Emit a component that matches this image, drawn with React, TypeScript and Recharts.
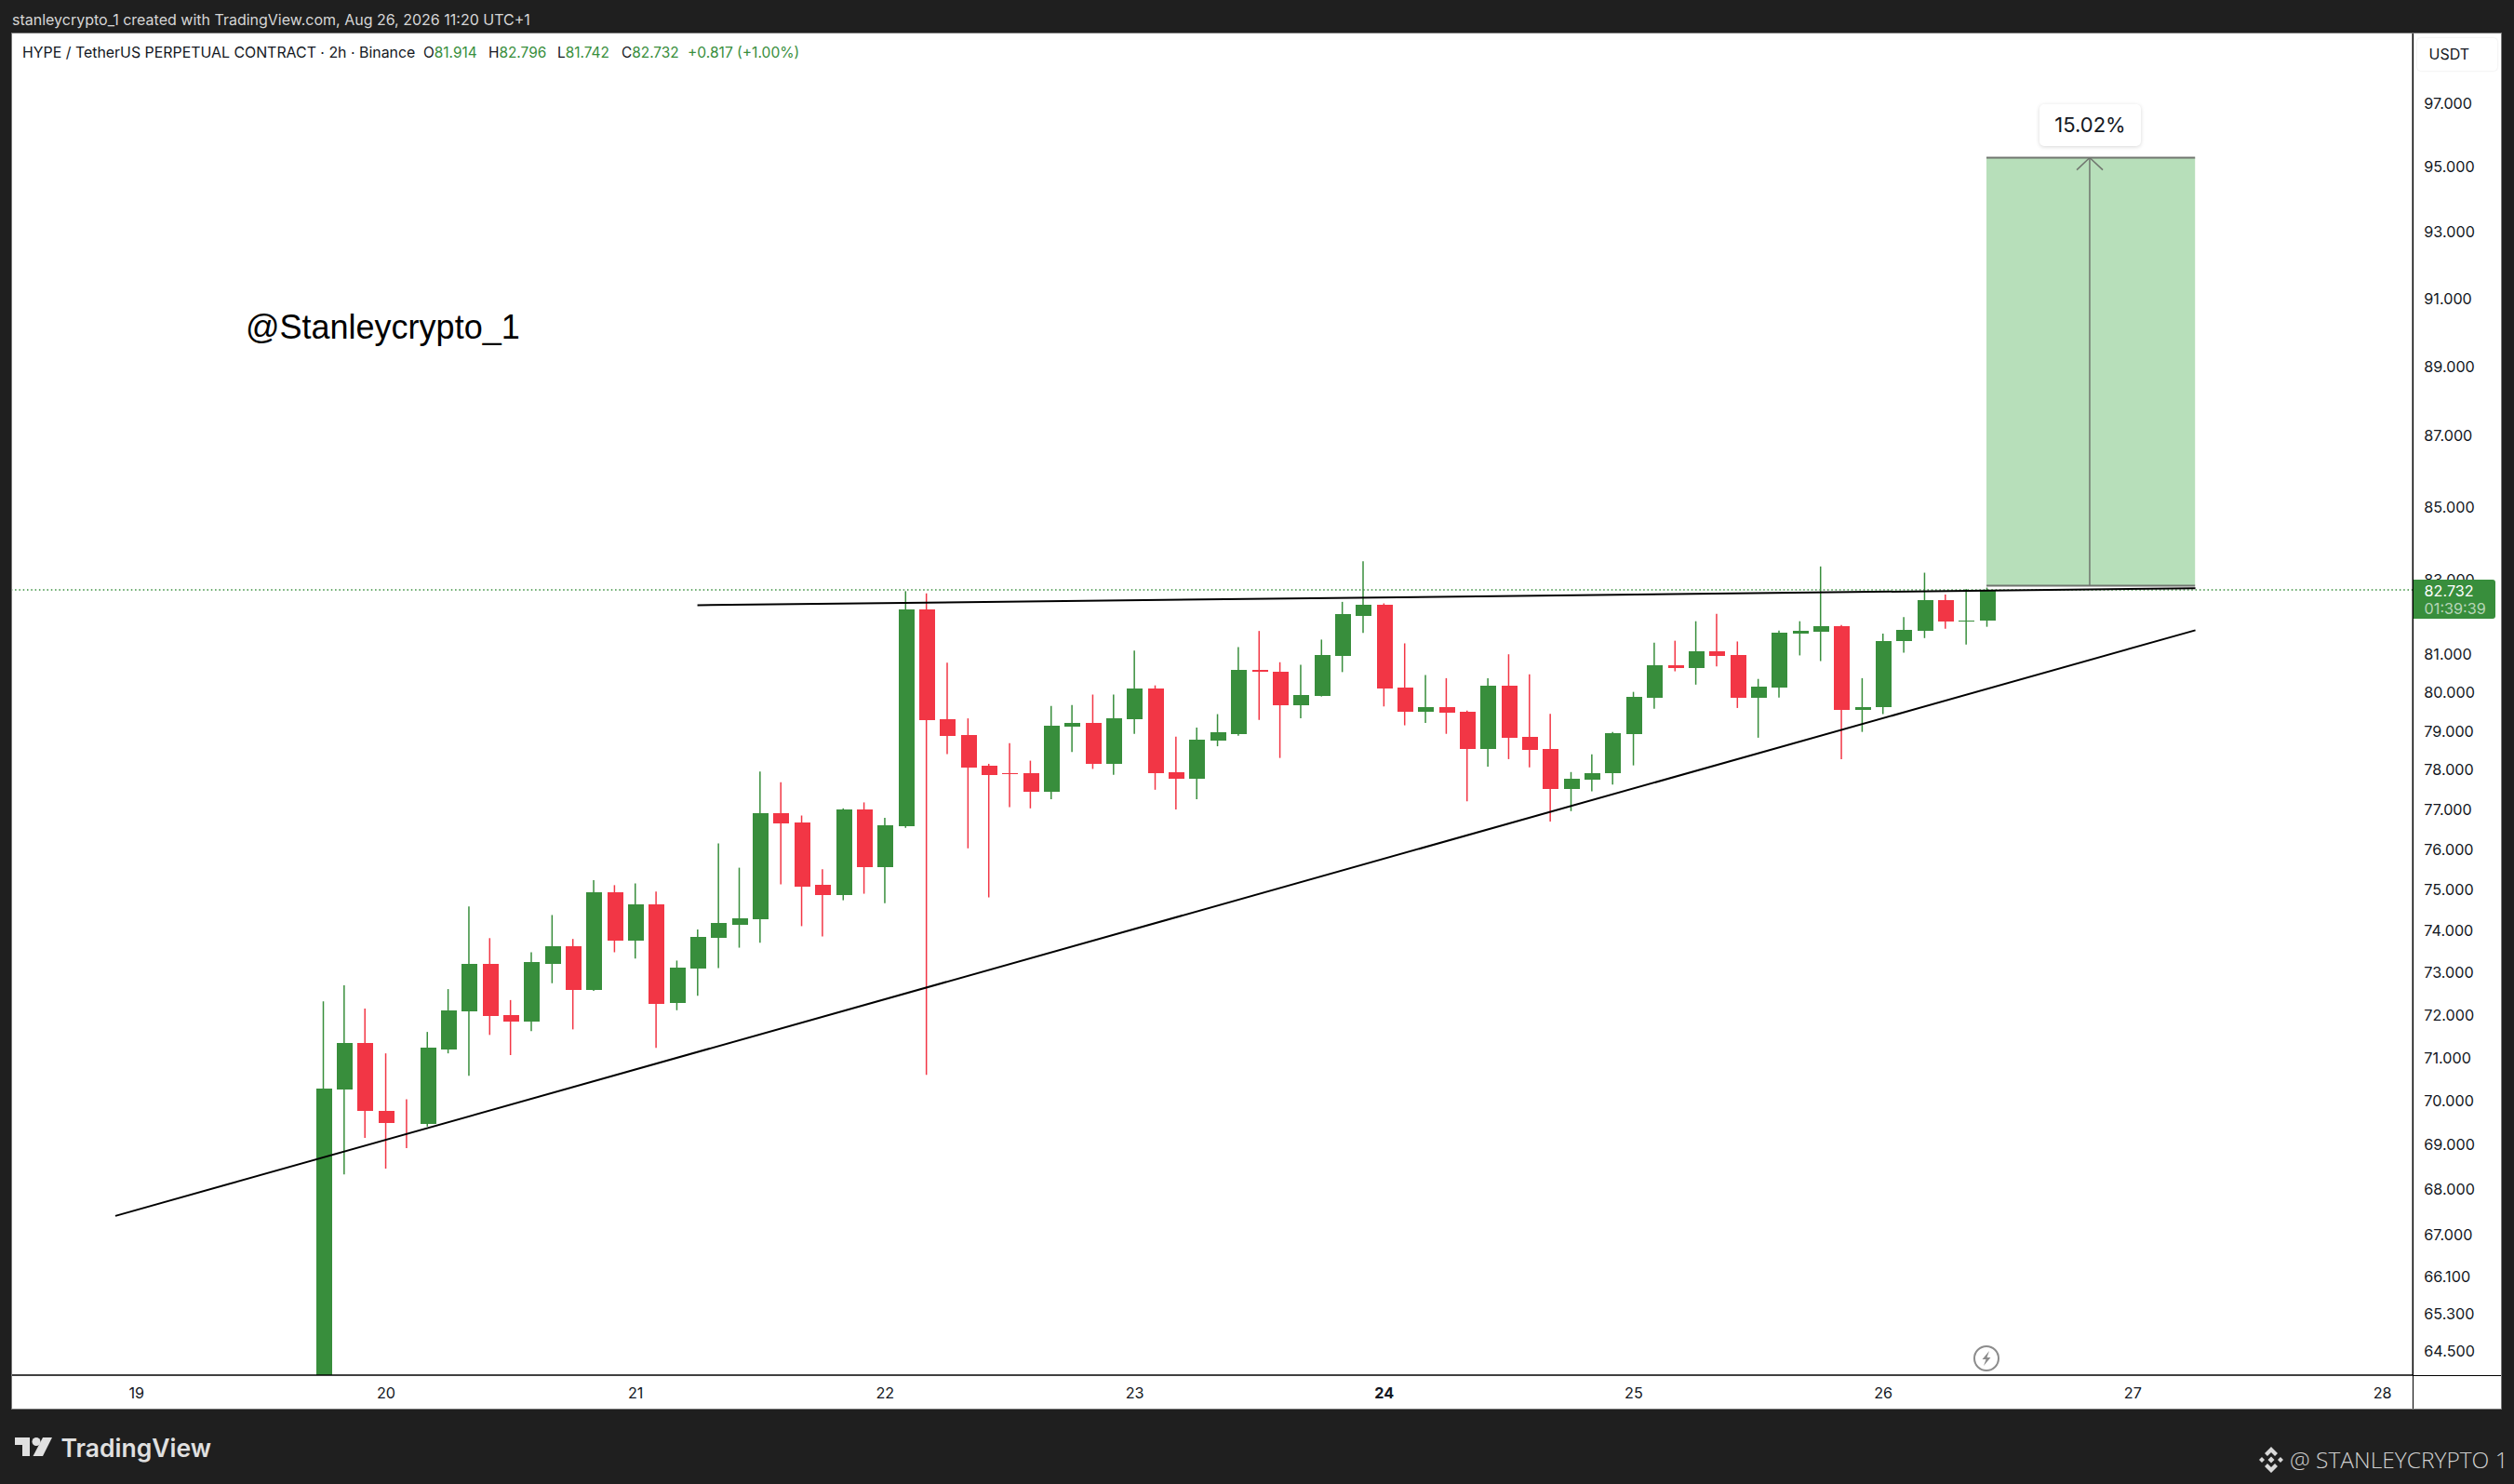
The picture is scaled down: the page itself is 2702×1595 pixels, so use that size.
import { Bar, Cell, ComposedChart, ReferenceArea, ReferenceLine, XAxis, YAxis } from "recharts"

// 2h candles, the first one opens on the 19th at 18:00
const firstCandleDay = 19.75

const opens = [
  63.5, 70.27, 71.34, 69.78, 69.51, 69.48, 71.2, 72.08, 73.2, 71.99, 71.85, 73.22, 73.63, 72.58, 74.94, 73.76, 74.64,
  72.29, 73.11, 73.83, 74.16, 74.28, 76.91, 76.68, 75.12, 74.87, 77.01, 75.57, 76.59, 82.21, 79.31, 78.9, 78.1, 77.91,
  77.91, 77.46, 79.12, 79.21, 78.16, 79.32, 80.11, 77.95, 77.79, 78.76, 78.93, 80.59, 80.56, 79.68, 79.92, 80.96, 82.04,
  82.34, 80.14, 79.5, 79.63, 79.51, 78.54, 80.19, 78.86, 78.53, 77.53, 77.75, 77.93, 78.93, 79.87, 80.73, 80.65, 81.08,
  80.98, 79.87, 80.14, 81.56, 81.61, 81.76, 79.56, 79.63, 81.35, 81.64, 82.47, 81.89, 81.914,
]
const highs = [
  72.32, 72.7, 72.15, 71.1, 70.04, 71.6, 72.61, 74.6, 73.83, 72.35, 73.49, 74.39, 73.81, 75.24, 75.12, 75.16, 74.96,
  73.29, 74.04, 76.15, 75.55, 77.96, 77.69, 76.85, 75.51, 77.03, 77.18, 76.79, 82.7, 82.64, 80.79, 79.33, 78.16, 78.69,
  78.24, 79.65, 79.68, 79.95, 79.95, 81.11, 80.19, 78.86, 79.09, 79.44, 81.2, 81.63, 80.8, 80.73, 81.4, 82.41, 83.51,
  82.37, 81.3, 80.46, 80.38, 79.53, 80.38, 81.01, 80.48, 79.45, 77.95, 78.4, 78.98, 80.02, 81.32, 81.37, 81.89, 82.09,
  81.35, 80.36, 81.64, 81.89, 83.37, 81.79, 80.38, 81.56, 82.0, 83.2, 82.61, 82.76, 82.796,
]
const lows = [
  63.3, 68.34, 69.16, 68.47, 68.93, 69.42, 71.1, 70.58, 71.53, 71.06, 71.62, 72.75, 71.66, 72.57, 73.49, 73.34, 71.23,
  72.11, 72.45, 73.11, 73.6, 73.72, 75.14, 74.12, 73.87, 74.75, 74.91, 74.68, 76.54, 70.6, 78.41, 76.03, 74.82, 77.06,
  77.03, 77.26, 78.46, 78.03, 77.88, 78.93, 77.5, 77.0, 77.26, 78.61, 78.88, 79.29, 78.31, 79.33, 79.9, 80.54, 81.58,
  79.64, 79.15, 79.21, 78.93, 77.21, 78.09, 78.28, 78.07, 76.7, 76.96, 77.46, 77.63, 78.12, 79.58, 80.56, 80.21, 80.69,
  79.6, 78.83, 79.87, 80.98, 80.83, 78.28, 78.98, 79.44, 81.05, 81.44, 81.69, 81.27, 81.742,
]
const closes = [
  70.28, 71.34, 69.78, 69.5, 69.49, 71.23, 72.1, 73.2, 71.97, 71.85, 73.25, 73.63, 72.58, 74.94, 73.76, 74.64, 72.27,
  73.13, 73.85, 74.19, 74.3, 76.91, 76.66, 75.09, 74.87, 77.01, 75.57, 76.6, 82.21, 79.29, 78.88, 78.07, 77.88, 77.89,
  77.46, 79.15, 79.21, 78.16, 79.33, 80.11, 77.92, 77.79, 78.78, 78.96, 80.59, 80.54, 79.68, 79.95, 80.98, 82.07, 82.34,
  80.11, 79.5, 79.63, 79.48, 78.54, 80.19, 78.83, 78.51, 77.53, 77.77, 77.93, 78.95, 79.9, 80.73, 80.65, 81.08, 80.96,
  79.87, 80.16, 81.59, 81.64, 81.76, 79.56, 79.63, 81.37, 81.66, 82.47, 81.89, 81.91, 82.732,
]

const dayTicks = [19, 20, 21, 22, 23, 24, 25, 26, 27, 28]
const priceTicks = [
  97, 95, 93, 91, 89, 87, 85, 83, 81, 80, 79, 78, 77, 76, 75, 74, 73, 72, 71, 70, 69, 68, 67, 66.1, 65.3, 64.5,
]

const lastPrice = 82.732
const resistance = { from: { x: 21.2476, y: 82.32 }, to: { x: 27.2506, y: 82.78 } }
const support = { from: { x: 18.915, y: 67.42 }, to: { x: 27.2506, y: 81.65 } }
const target = { left: 26.4132, right: 27.2492, mid: 26.8269, bottom: 82.85, top: 95.29 }
const arrowHead = { left: 26.7751, right: 26.8795, y: 94.91 }

const GREEN = "#388e3c"
const RED = "#f23645"
const TOOL = "#70756f"
const DARK = "#1f1f1f"
const UI_FONT = "Inter, sans-serif"

const candles = opens.map((open, i) => ({
  day: firstCandleDay + i / 12,
  body: [Math.min(open, closes[i]), Math.max(open, closes[i])],
  wick: [lows[i], highs[i]],
  up: closes[i] >= open,
}))

function DayTick({ x, y, payload }: any) {
  return (
    <text
      x={x}
      y={y + 19}
      textAnchor="middle"
      dominantBaseline="middle"
      fontFamily={UI_FONT}
      fontSize={16.2}
      fontWeight={payload.value === 24 ? 700 : 400}
      fill="#131722"
    >
      {payload.value}
    </text>
  )
}

function Abs({ x, y, color = "#131722", size = 16, style, children }: any) {
  // y is the vertical centre of the text
  return (
    <div
      style={{
        position: "absolute",
        left: x,
        top: y,
        transform: "translateY(-50%)",
        color,
        fontFamily: UI_FONT,
        fontSize: size,
        lineHeight: 1,
        whiteSpace: "nowrap",
        ...style,
      }}
    >
      {children}
    </div>
  )
}

export default function App() {
  return (
    <div style={{ position: "absolute", left: 0, top: 0, width: 2702, height: 1595, background: DARK, overflow: "hidden" }}>
      <div
        style={{
          position: "absolute",
          left: 13,
          top: 36,
          width: 2675,
          height: 1478,
          background: "#fff",
          boxShadow: "0 0 0 1px #777",
        }}
      />
      <div style={{ position: "absolute", left: 2592.5, top: 1478, width: 1.5, height: 36, background: "#000" }} />
      <div style={{ position: "absolute", left: 2593, top: 1477.5, width: 95, height: 1.5, background: "#000" }} />

      <div style={{ position: "absolute", left: 0, top: 0 }}>
        <ComposedChart
          width={2702}
          height={1595}
          data={candles}
          margin={{ top: 36, left: 13, right: 13.7, bottom: 81 }}
        >
          <XAxis
            xAxisId="body"
            dataKey="day"
            type="number"
            domain={[18.5012, 28.122]}
            ticks={dayTicks}
            interval={0}
            height={36}
            tick={<DayTick />}
            tickSize={0}
            tickLine={false}
            axisLine={{ stroke: "#000", strokeWidth: 1.5 }}
          />
          <XAxis xAxisId="wick" dataKey="day" type="number" domain={[18.5012, 28.122]} ticks={dayTicks} hide />
          <YAxis
            orientation="right"
            scale="log"
            type="number"
            domain={[64, 99.24]}
            allowDataOverflow
            ticks={priceTicks}
            interval={0}
            width={95}
            tickSize={0}
            tickMargin={12}
            tickFormatter={(v: number) => v.toFixed(3)}
            tick={{ fill: "#131722", fontSize: 16.2, fontFamily: UI_FONT }}
            axisLine={{ stroke: "#000", strokeWidth: 1.5 }}
          />

          <ReferenceArea
            xAxisId="body"
            x1={target.left}
            x2={target.right}
            y1={target.bottom}
            y2={target.top}
            fill="#b7dfba"
            fillOpacity={1}
            stroke="none"
          />
          <ReferenceLine
            xAxisId="body"
            y={lastPrice}
            stroke={GREEN}
            strokeWidth={1.5}
            strokeDasharray="1.5 2.8"
          />
          <ReferenceLine
            xAxisId="body"
            segment={[support.from, support.to]}
            stroke="#000"
            strokeWidth={2}
          />
          <ReferenceLine
            xAxisId="body"
            segment={[resistance.from, resistance.to]}
            stroke="#000"
            strokeWidth={2}
          />
          <ReferenceLine
            xAxisId="body"
            segment={[{ x: target.left, y: target.top }, { x: target.right, y: target.top }]}
            stroke={TOOL}
            strokeWidth={2}
          />
          <ReferenceLine
            xAxisId="body"
            segment={[{ x: target.left, y: target.bottom }, { x: target.right, y: target.bottom }]}
            stroke={TOOL}
            strokeWidth={2}
          />
          <ReferenceLine
            xAxisId="body"
            segment={[{ x: target.mid, y: target.bottom }, { x: target.mid, y: target.top }]}
            stroke={TOOL}
            strokeWidth={1.5}
          />
          <ReferenceLine
            xAxisId="body"
            segment={[{ x: arrowHead.left, y: arrowHead.y }, { x: target.mid, y: target.top }]}
            stroke={TOOL}
            strokeWidth={1.5}
          />
          <ReferenceLine
            xAxisId="body"
            segment={[{ x: arrowHead.right, y: arrowHead.y }, { x: target.mid, y: target.top }]}
            stroke={TOOL}
            strokeWidth={1.5}
          />

          <Bar xAxisId="wick" dataKey="wick" barSize={1.5} isAnimationActive={false}>
            {candles.map((c, i) => (
              <Cell key={i} fill={c.up ? GREEN : RED} />
            ))}
          </Bar>
          <Bar xAxisId="body" dataKey="body" barSize={17} shapeRendering="crispEdges" isAnimationActive={false}>
            {candles.map((c, i) => (
              <Cell key={i} fill={c.up ? GREEN : RED} />
            ))}
          </Bar>
        </ComposedChart>
      </div>

      {/* header */}
      <Abs x={13} y={20.5} color="#d6d6d6" size={16}>
        stanleycrypto_1 created with TradingView.com, Aug 26, 2026 11:20 UTC+1
      </Abs>
      <Abs x={24} y={57} size={15.9}>HYPE / TetherUS PERPETUAL CONTRACT · 2h · Binance</Abs>
      <Abs x={455} y={57} size={15.4}>O<span style={{ color: GREEN }}>81.914</span></Abs>
      <Abs x={525} y={57} size={15.4}>H<span style={{ color: GREEN }}>82.796</span></Abs>
      <Abs x={599} y={57} size={15.4}>L<span style={{ color: GREEN }}>81.742</span></Abs>
      <Abs x={668} y={57} size={15.4}>C<span style={{ color: GREEN }}>82.732</span></Abs>
      <Abs x={739} y={57} size={15.6} color={GREEN}>+0.817 (+1.00%)</Abs>

      {/* annotation */}
      <Abs x={264} y={352} size={36} color="#000" style={{ fontFamily: "'Liberation Sans', sans-serif" }}>
        @Stanleycrypto_1
      </Abs>

      {/* position label */}
      <div
        style={{
          position: "absolute",
          left: 2192,
          top: 112,
          width: 109,
          height: 45,
          background: "#fff",
          borderRadius: 5,
          boxShadow: "0 1px 4px rgba(0,0,0,0.16)",
          textAlign: "center",
          lineHeight: "45px",
          fontFamily: UI_FONT,
          fontSize: 22,
          color: "#131722",
        }}
      >
        15.02%
      </div>

      {/* currency button */}
      <div
        style={{
          position: "absolute",
          left: 2598,
          top: 41,
          width: 86,
          height: 35,
          borderRadius: 4,
          boxShadow: "0 0 2px rgba(0,0,0,0.15)",
          background: "#fff",
        }}
      />
      <Abs x={2610.5} y={58} size={16}>USDT</Abs>

      {/* last price tag */}
      <div
        style={{
          position: "absolute",
          left: 2594,
          top: 623,
          width: 88,
          height: 42,
          background: GREEN,
          borderRadius: "0 3px 3px 0",
        }}
      />
      <Abs x={2605.6} y={635} size={16.2} color="#fff">82.732</Abs>
      <Abs x={2605.6} y={654} size={16.2} color="rgba(255,255,255,0.65)">01:39:39</Abs>

      {/* flash icon */}
      <svg style={{ position: "absolute", left: 2119, top: 1444 }} width={32} height={32}>
        <circle cx={16} cy={16} r={13} fill="#fff" stroke="#8c8c8c" strokeWidth={2} />
        <path d="M19 8 L11.5 17 L15.5 17 L13 24 L20.5 15 L16.5 15 Z" fill="#8c8c8c" />
      </svg>

      {/* footer */}
      <svg style={{ position: "absolute", left: 15, top: 1543 }} width={42} height={24} fill="#e0e0e0">
        <path d="M1 2 H17 V22 H9 V10 H1 Z" />
        <circle cx={24} cy={6.5} r={4.5} />
        <path d="M31 2 H41 L31 22 H20.5 Z" />
      </svg>
      <Abs x={65.5} y={1556} size={26.5} color="#e0e0e0" style={{ fontWeight: 600 }}>TradingView</Abs>
      <svg style={{ position: "absolute", left: 2427, top: 1555 }} width={28} height={28} fill="#d8d8d8">
        <path d="M14 0 L21 7 L18 10 L14 6 L10 10 L7 7 Z" />
        <path d="M14 28 L7 21 L10 18 L14 22 L18 18 L21 21 Z" />
        <path d="M14 10.5 L17.5 14 L14 17.5 L10.5 14 Z" />
        <path d="M4 11 L7 14 L4 17 L1 14 Z" />
        <path d="M24 11 L27 14 L24 17 L21 14 Z" />
      </svg>
      <Abs x={2461} y={1569} size={24.5} color="#d0d0d0" style={{ fontFamily: "'Open Sans', sans-serif", fontWeight: 300 }}>
        @ STANLEYCRYPTO 1
      </Abs>
    </div>
  )
}
